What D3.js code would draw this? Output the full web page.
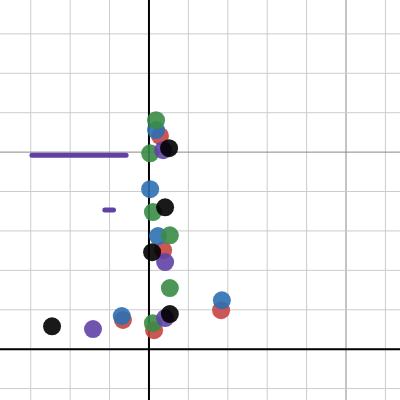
<!DOCTYPE html>
<html><head><meta charset="utf-8">
<script src="https://cdn.jsdelivr.net/npm/d3@7"></script>
<style>body{margin:0;background:#fff}svg{display:block}</style>
</head><body><svg id="c" width="400" height="400"></svg>
<script>
const blackPts=[[-2.46,0.58],[0.51,5.10],[0.41,3.60],[0.08,2.46],[0.53,0.89]];
const purplePts=[[-1.42,0.51],[0.36,5.05],[0.41,2.21],[0.41,0.79]];
const redPts=[[-0.66,0.74],[0.28,5.41],[0.36,2.51],[0.13,0.48],[1.83,0.99]];
const bluePts=[[-0.69,0.84],[0.18,5.56],[0.03,4.06],[0.23,2.87],[1.85,1.24]];
const greenPts=[[0.18,5.81],[0.03,4.97],[0.10,3.48],[0.53,2.89],[0.53,1.55],[0.10,0.66]];
const purpleSegs=[[[-2.97,4.92],[-0.58,4.92]],[[-1.12,3.53],[-0.90,3.53]]];
const svg=d3.select("#c");
const x=d3.scaleLinear().domain([-3.78,6.37]).range([0,400]);
const y=d3.scaleLinear().domain([-1.29,8.86]).range([400,0]);
const g=svg.append("g");
d3.range(-3,7).forEach(v=>{g.append("line").attr("x1",x(v)).attr("x2",x(v)).attr("y1",0).attr("y2",400)
  .attr("stroke",v%5===0&&v!==0?"#888":"#ccc").attr("stroke-width",1);});
d3.range(-1,9).forEach(v=>{g.append("line").attr("y1",y(v)).attr("y2",y(v)).attr("x1",0).attr("x2",400)
  .attr("stroke",v%5===0&&v!==0?"#888":"#ccc").attr("stroke-width",1);});
g.append("line").attr("x1",x(0)).attr("x2",x(0)).attr("y1",0).attr("y2",400).attr("stroke","#000").attr("stroke-width",2);
g.append("line").attr("y1",y(0)).attr("y2",y(0)).attr("x1",0).attr("x2",400).attr("stroke","#000").attr("stroke-width",2);
purpleSegs.forEach(s=>svg.append("line").attr("x1",x(s[0][0])).attr("y1",y(s[0][1])).attr("x2",x(s[1][0])).attr("y2",y(s[1][1]))
  .attr("stroke","#6042a6").attr("stroke-width",5).attr("stroke-linecap","round"));
[[redPts,"#c74440"],[bluePts,"#2d70b3"],[greenPts,"#388c46"],[purplePts,"#6042a6"],[blackPts,"#000"]].forEach(([d,c])=>{
  svg.selectAll(null).data(d).enter().append("circle").attr("cx",p=>x(p[0])).attr("cy",p=>y(p[1])).attr("r",9)
   .attr("fill",c).attr("fill-opacity",0.9);
});
</script></body></html>
